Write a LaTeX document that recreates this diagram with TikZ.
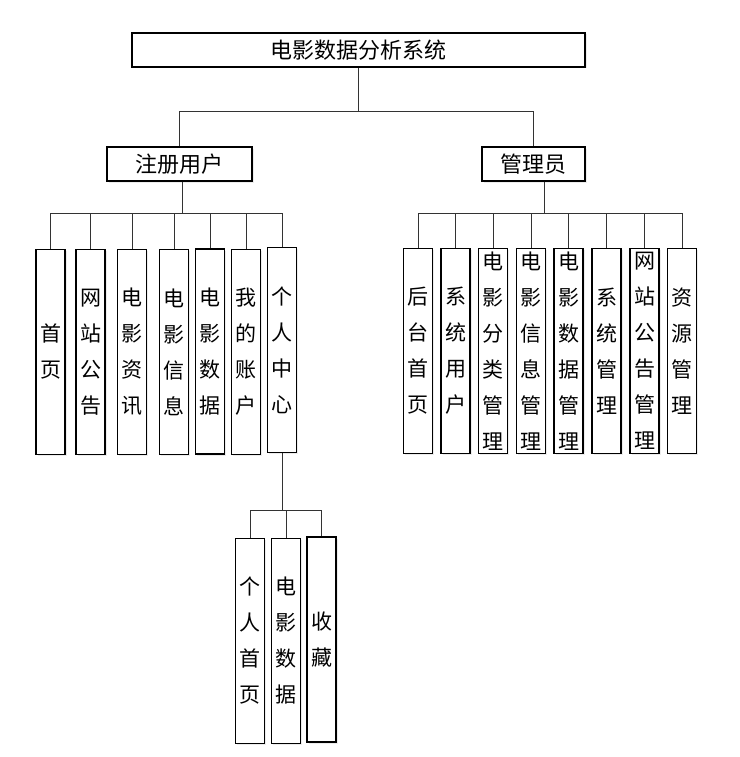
\documentclass[tikz,border=0pt]{standalone}
\usepackage{fontspec}
\newfontfamily\cjk{Noto Sans CJK SC}
\usetikzlibrary{shadows}

\begin{document}
\begin{tikzpicture}[
    x=1pt, y=-1pt,
    box/.style={draw, line width=1.3pt, fill=white, inner sep=0pt,
        font=\cjk\fontsize{22}{26}\selectfont,
        drop shadow={shadow xshift=1.5pt, shadow yshift=-1.5pt, opacity=0.15}},
    head/.style={box, minimum height=34pt},
    leaf/.style={box, minimum width=29pt, minimum height=205pt, align=center,
        font=\cjk\fontsize{21}{36}\selectfont},
    link/.style={line width=0.9pt, black!80},
]
\useasboundingbox (0,0) rectangle (739,757);

% Top level
\node[head, minimum width=453pt] (root) at (358.5, 50) {电影数据分析系统};

% Roles
\node[head, minimum width=145pt] (reg)   at (179.5, 164) {注册用户};
\node[head, minimum width=103pt] (admin) at (533.5, 164) {管理员};

% Registered user functions
\node[leaf] (u1) at (50.5, 352) {首\\页};
\node[leaf] (u2) at (90.5, 352) {网\\站\\公\\告};
\node[leaf] (u3) at (132, 352) {电\\影\\资\\讯};
\node[leaf] (u4) at (174, 352) {电\\影\\信\\息};
\node[leaf] (u5) at (210, 351.5) {电\\影\\数\\据};
\node[leaf] (u6) at (246, 352) {我\\的\\账\\户};
\node[leaf] (u7) at (282, 350) {个\\人\\中\\心};

% Personal centre
\node[leaf] (p1) at (250, 641) {个\\人\\首\\页};
\node[leaf] (p2) at (286, 641) {电\\影\\数\\据};
\node[leaf] (p3) at (321.5, 639.5) {收\\藏};

% Administrator functions
\node[leaf] (a1) at (418, 351) {后\\台\\首\\页};
\node[leaf] (a2) at (455.5, 351) {系\\统\\用\\户};
\node[leaf] (a3) at (493, 351) {电\\影\\分\\类\\管\\理};
\node[leaf] (a4) at (531, 351) {电\\影\\信\\息\\管\\理};
\node[leaf] (a5) at (568.5, 351) {电\\影\\数\\据\\管\\理};
\node[leaf] (a6) at (606.5, 351) {系\\统\\管\\理};
\node[leaf] (a7) at (644.5, 351) {网\\站\\公\\告\\管\\理};
\node[leaf] (a8) at (682, 351) {资\\源\\管\\理};

% Bus levels
\coordinate (busTop) at (0, 111);
\coordinate (busRole) at (0, 213);
\coordinate (busSub) at (0, 510);

% Root to roles
\draw[link] (root.south) -- (root.south |- busTop) -| (reg.north);
\draw[link] (root.south |- busTop) -| (admin.north);

% Registered user to its functions
\draw[link] ([xshift=2.5pt]reg.south) -- ([xshift=2.5pt]reg.south |- busRole);
\draw[link] (u1.north) -- (u1.north |- busRole) -- (u7.north |- busRole) -- (u7.north);
\draw[link] (u2.north) -- (u2.north |- busRole);
\draw[link] (u3.north) -- (u3.north |- busRole);
\draw[link] (u4.north) -- (u4.north |- busRole);
\draw[link] (u5.north) -- (u5.north |- busRole);
\draw[link] (u6.north) -- (u6.north |- busRole);

% Personal centre to its pages
\draw[link] (u7.south) -- (u7.south |- busSub);
\draw[link] (p1.north) -- (p1.north |- busSub) -- (p3.north |- busSub) -- (p3.north);
\draw[link] (p2.north) -- (p2.north |- busSub);

% Administrator to its functions
\draw[link] ([xshift=10.5pt]admin.south) -- ([xshift=10.5pt]admin.south |- busRole);
\draw[link] (a1.north) -- (a1.north |- busRole) -- (a8.north |- busRole) -- (a8.north);
\draw[link] (a2.north) -- (a2.north |- busRole);
\draw[link] (a3.north) -- (a3.north |- busRole);
\draw[link] (a4.north) -- (a4.north |- busRole);
\draw[link] (a5.north) -- (a5.north |- busRole);
\draw[link] (a6.north) -- (a6.north |- busRole);
\draw[link] (a7.north) -- (a7.north |- busRole);

\end{tikzpicture}
\end{document}
